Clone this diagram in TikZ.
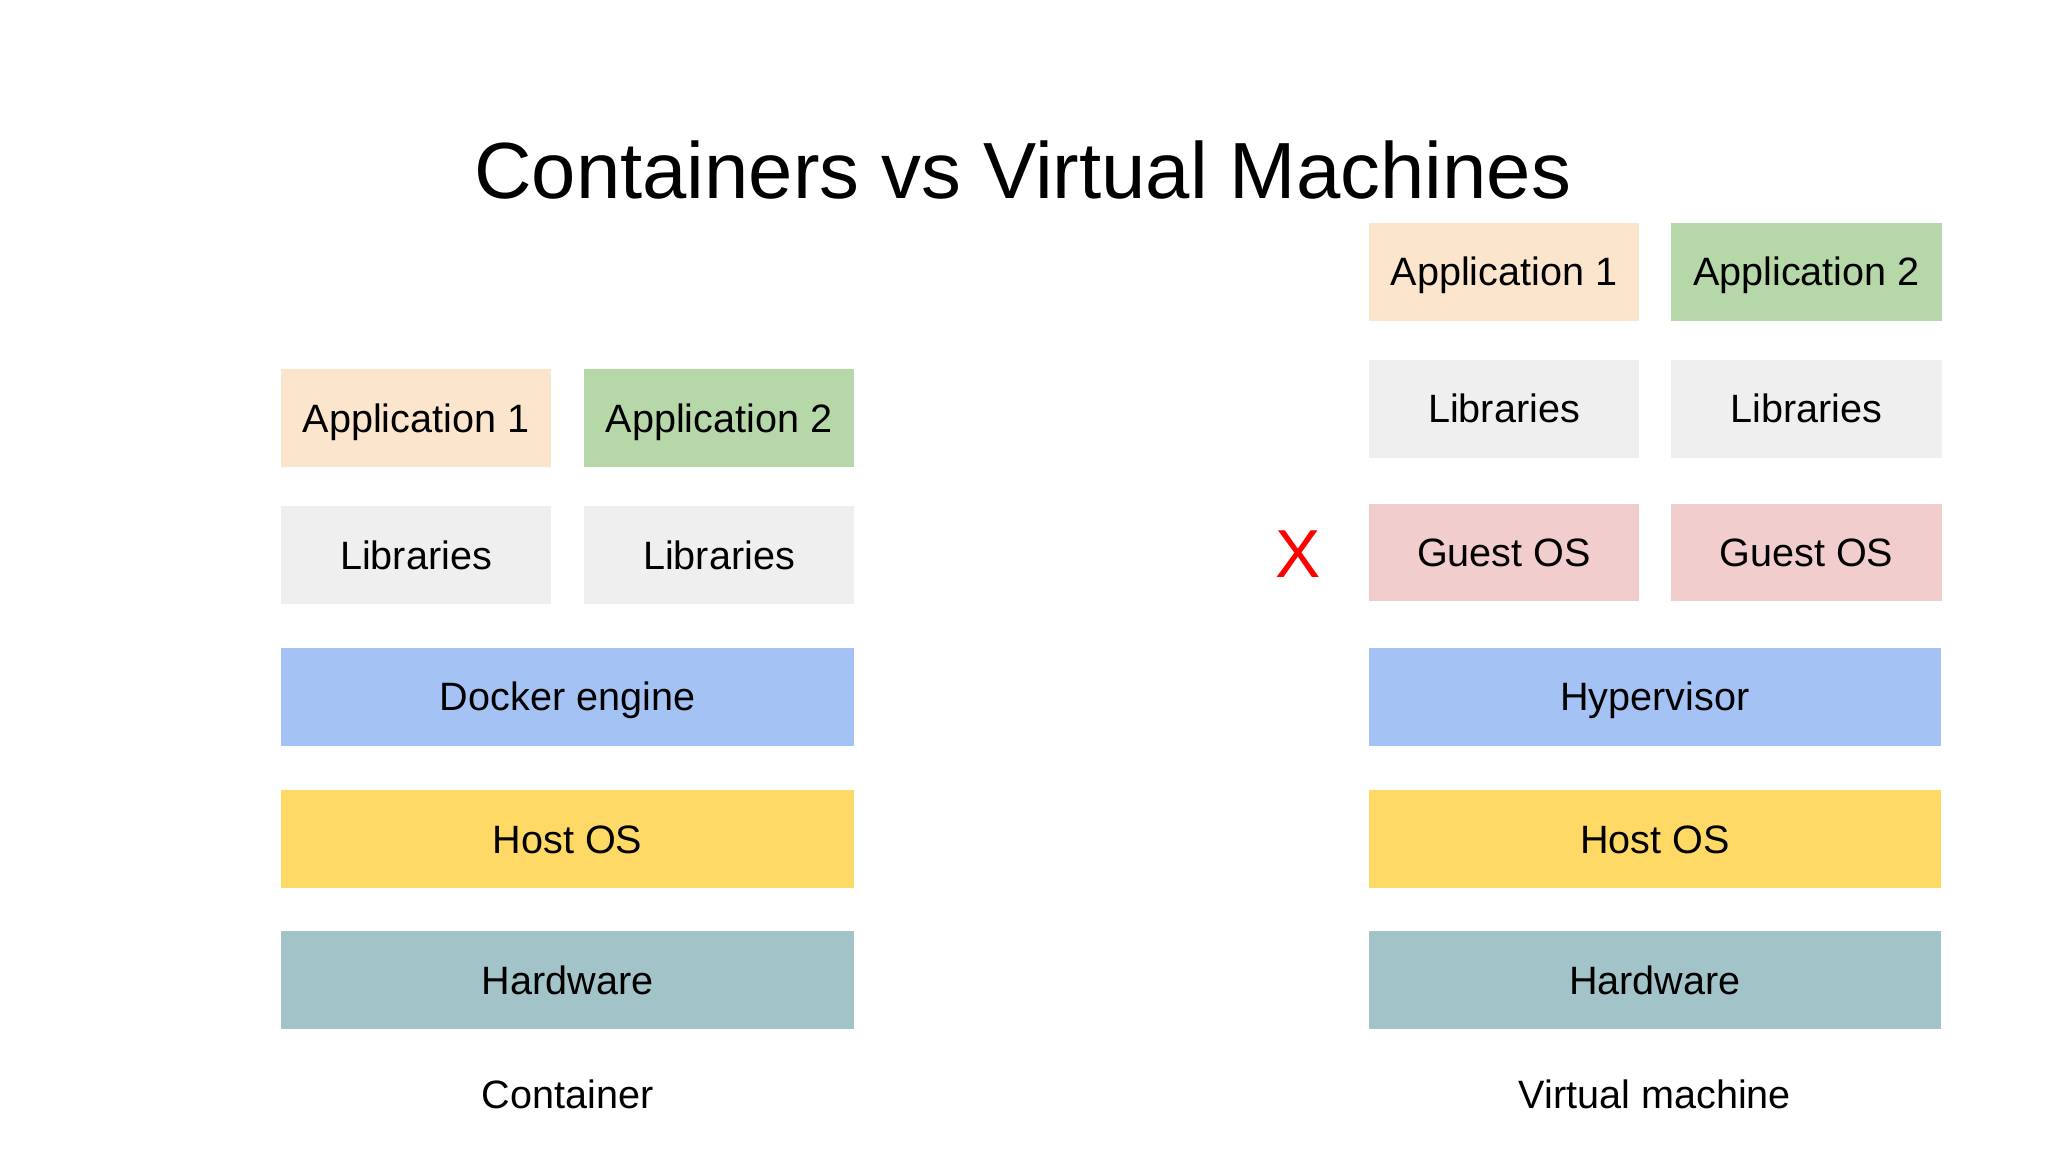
\documentclass[tikz,border=0pt]{standalone}
\usepackage{fontspec}
\setmainfont{Liberation Sans}
\definecolor{appone}{HTML}{FCE5CD}
\definecolor{apptwo}{HTML}{B6D7A8}
\definecolor{libc}{HTML}{EFEFEF}
\definecolor{guestc}{HTML}{F1CDCD}
\definecolor{engc}{HTML}{A4C2F4}
\definecolor{hostc}{HTML}{FFD966}
\definecolor{hwc}{HTML}{A2C4C9}
\definecolor{redx}{HTML}{FF0000}
\tikzset{
  layer/.style={rectangle, inner sep=0pt, minimum height=75pt, text height=21.6pt, text depth=0pt, font=\fontsize{30.3}{36}\selectfont, text=black},
  half/.style={layer, minimum width=207pt},
  full/.style={layer, minimum width=439pt},
  caption/.style={inner sep=0pt, text height=21.6pt, text depth=0pt, font=\fontsize{30.3}{36}\selectfont},
}
\begin{document}
\begin{tikzpicture}[x=1pt,y=-1pt]
\useasboundingbox[fill=white] (0,0) rectangle (1568,882);
\node[inner sep=0pt, font=\fontsize{61}{70}\selectfont] (title) at (783,130) {Containers vs Virtual Machines};
% Container stack
\node[half, fill=appone] (capp1) at (318.5,320) {Application 1};
\node[half, fill=apptwo] (capp2) at (550.5,320) {Application 2};
\node[half, fill=libc] (clib1) at (318.5,425) {Libraries};
\node[half, fill=libc] (clib2) at (550.5,425) {Libraries};
\node[full, fill=engc] (cdock) at (434.5,533.5) {Docker engine};
\node[full, fill=hostc] (chost) at (434.5,642.5) {Host OS};
\node[full, fill=hwc] (chw) at (434.5,750.5) {Hardware};
\node[caption] (clabel) at (434.5,838) {Container};
% VM stack
\node[half, fill=appone] (vapp1) at (1151.5,208) {Application 1};
\node[half, fill=apptwo] (vapp2) at (1383,208) {Application 2};
\node[half, fill=libc] (vlib1) at (1151.5,313) {Libraries};
\node[half, fill=libc] (vlib2) at (1383,313) {Libraries};
\node[half, fill=guestc] (vg1) at (1151.5,423) {Guest OS};
\node[half, fill=guestc] (vg2) at (1383,423) {Guest OS};
\node[full, fill=engc, minimum width=438pt] (vhyp) at (1267,533.5) {Hypervisor};
\node[full, fill=hostc, minimum width=438pt] (vhost) at (1267,642.5) {Host OS};
\node[full, fill=hwc, minimum width=438pt] (vhw) at (1267,750.5) {Hardware};
\node[caption] (vlabel) at (1267,838) {Virtual machine};
\node[inner sep=0pt, text=redx, font=\fontsize{52}{60}\selectfont] (xmark) at (994,424) {X};
\end{tikzpicture}
\end{document}
